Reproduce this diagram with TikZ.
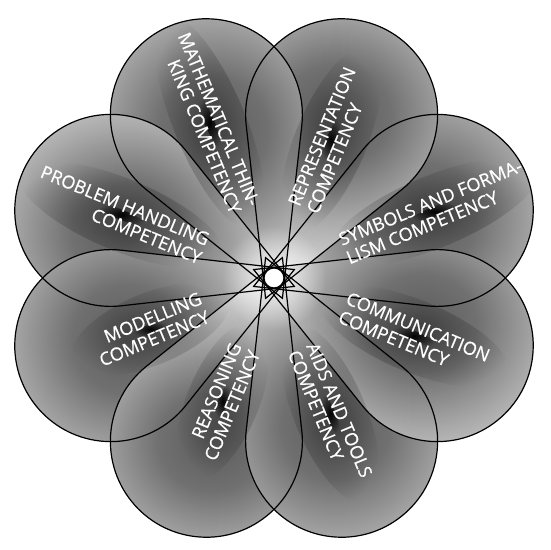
\documentclass[tikz,border=0pt]{standalone}
\usepackage{fontspec}
\setmainfont{Open Sans}
\newfontfamily\petalfont{Open Sans}[FakeBold=0.6]
\usetikzlibrary{fadings}

\pgfdeclareradialshading{petalshade}{\pgfpoint{0bp}{0bp}}{%
  color(0bp)=(black!64); color(8bp)=(black!56); color(17bp)=(black!34);
  color(25bp)=(black!17); color(50bp)=(black!17)}
\tikzfading[name=glowfade, inner color=transparent!0, outer color=transparent!100]
\pgfdeclarelayer{background}
\pgfsetlayers{background,main}

\newcommand{\petalpath}{(-22,0) -- (130.6,-84.2) arc[start angle=-118.7, end angle=118.7, radius=96] -- cycle}

\begin{document}
\begin{tikzpicture}[
  x=1pt, y=1pt,
  outline/.style={draw, line width=1.2pt},
  label/.style={text=white, font=\petalfont\fontsize{18}{20}\selectfont, inner sep=0pt},
  inward/.style={label, anchor=east, align=right},
  outward/.style={label, anchor=west, align=left},
  hub/.style={circle, draw, fill=white, line width=1.2pt, minimum size=20pt, inner sep=0pt}
]
\useasboundingbox (-274,-272) rectangle (276,278);

\node[hub] (hub) at (0,0) {};

\node[inward, rotate=-67.5] (math) at (112.5:75) {MATHEMATICAL THIN-\\KING COMPETENCY};
\node[outward, rotate=67.5] (repr) at (67.5:75) {REPRESENTATION\\COMPETENCY};
\node[outward, rotate=22.5] (symb) at (22.5:75) {SYMBOLS AND FORMA-\\LISM COMPETENCY};
\node[outward, rotate=-22.5] (comm) at (-22.5:75) {COMMUNICATION\\COMPETENCY};
\node[outward, rotate=-67.5] (aids) at (-67.5:75) {AIDS AND TOOLS\\COMPETENCY};
\node[inward, rotate=67.5] (reas) at (-112.5:75) {REASONING\\COMPETENCY};
\node[inward, rotate=22.5] (model) at (-157.5:75) {MODELLING\\COMPETENCY};
\node[inward, rotate=-22.5] (prob) at (157.5:75) {PROBLEM HANDLING\\COMPETENCY};

\begin{pgfonlayer}{background}
% shaded petals
\foreach \a in {22.5,67.5,...,337.5}{
  \begin{scope}[rotate=\a]
    \clip \petalpath;
    \shade[shading=petalshade] (160,0) circle (150);
  \end{scope}
}
% dark glow behind the labels
\foreach \n/\r/\w in {math/-67.5/85, repr/67.5/70, symb/22.5/82, comm/-22.5/72,
                      aids/-67.5/65, reas/67.5/55, model/22.5/55, prob/-22.5/80}{
  \begin{scope}[shift={(\n.center)}, rotate=\r]
    \fill[black, opacity=.35, path fading=glowfade] (0,0) ellipse [x radius=\w+30, y radius=36];
    \fill[black, opacity=.95, path fading=glowfade] (0,0) ellipse [x radius=\w*0.35, y radius=5];
  \end{scope}
}
\fill[white, opacity=.85, path fading=glowfade] (0,0) circle (52);

% outlines
\foreach \a in {22.5,67.5,...,337.5}
  \path[outline, rotate=\a] \petalpath;
\end{pgfonlayer}

\end{tikzpicture}
\end{document}
